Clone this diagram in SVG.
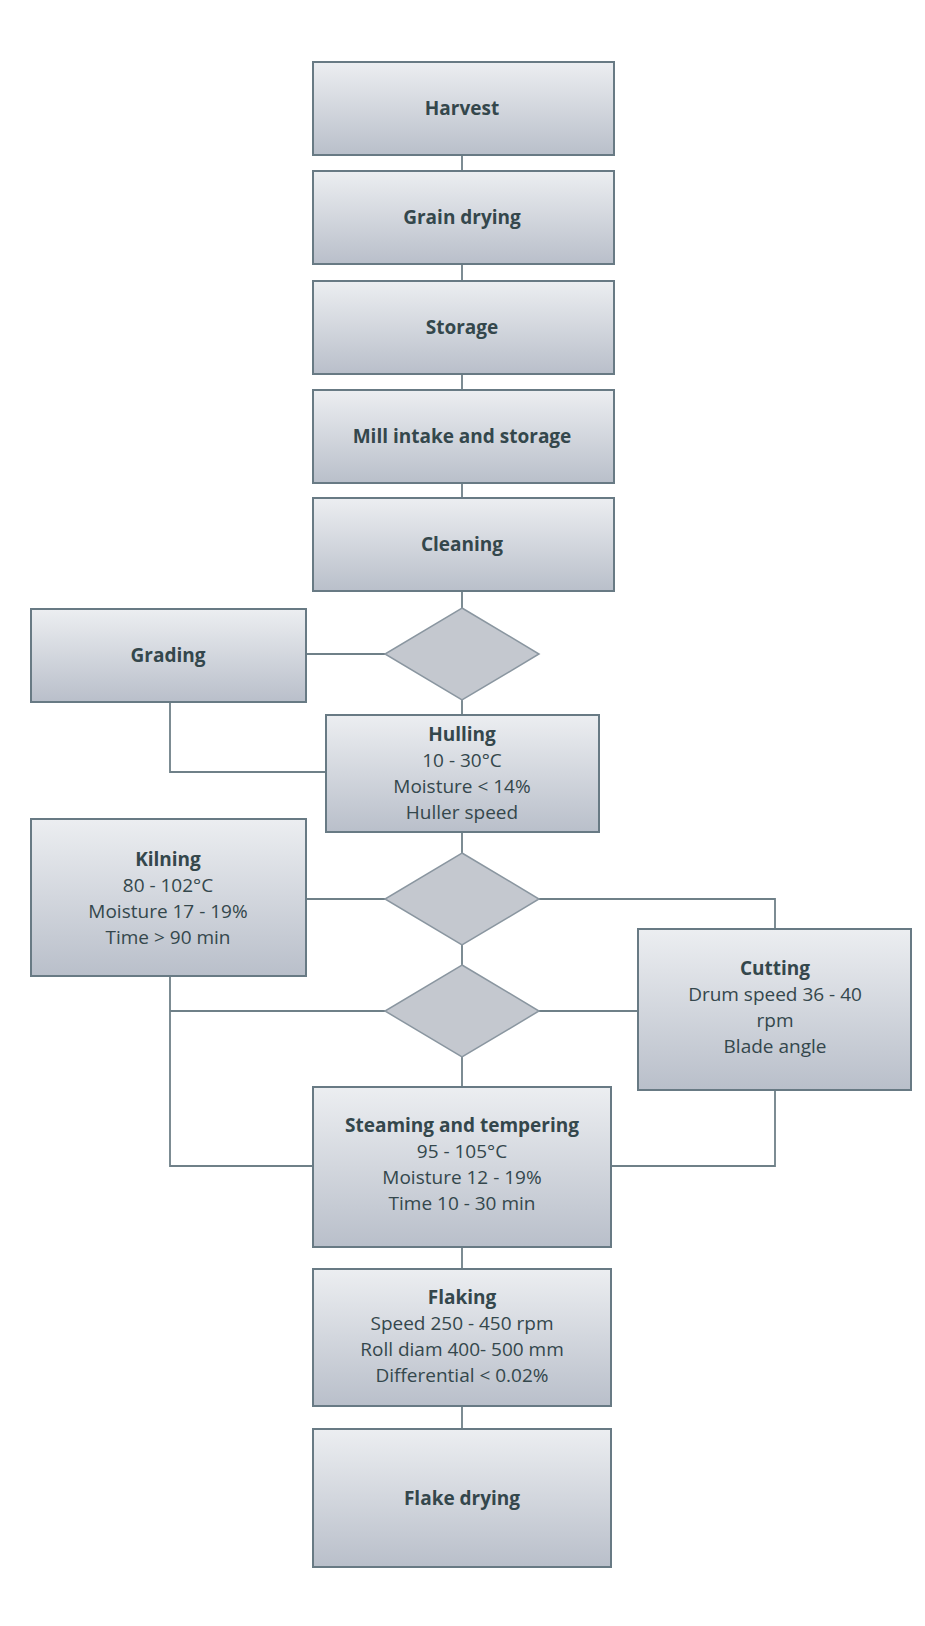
<svg xmlns="http://www.w3.org/2000/svg" width="925" height="1626" viewBox="0 0 925 1626">
<defs>
<linearGradient id="g" x1="0" y1="0" x2="0" y2="1"><stop offset="0" stop-color="#eceef1"/><stop offset="1" stop-color="#b9bfca"/></linearGradient>
</defs>
<style>
.b{fill:url(#g);stroke:#687a84;stroke-width:2}
.d{fill:#c4c8cf;stroke:#8a96a0;stroke-width:1.5}
.c{fill:none;stroke:#6f8088;stroke-width:1.8}
text{font-family:"Open Sans","DejaVu Sans",sans-serif;font-size:19px;fill:#34474c;text-anchor:middle}
.t{font-weight:bold}
</style>
<rect width="925" height="1626" fill="#fff"/>
<g id="connectors">
<path class="c" d="M462 155V171M462 264V281M462 374V390M462 483V498M462 591V608M462 700V715M306 654H385M170 702V772H326M462 832V853M306 899H385M539 899H775V929M462 945V965M170 976V1166H313M385 1011H170M539 1011H638M462 1057V1087M775 1090V1166H611M462 1247V1269M462 1406V1429"/>
</g>
<g id="harvest"><rect class="b" x="313" y="62" width="301" height="93"/><text class="t" x="462" y="115">Harvest</text></g>
<g id="grain-drying"><rect class="b" x="313" y="171" width="301" height="93"/><text class="t" x="462" y="224">Grain drying</text></g>
<g id="storage"><rect class="b" x="313" y="281" width="301" height="93"/><text class="t" x="462" y="334">Storage</text></g>
<g id="mill-intake"><rect class="b" x="313" y="390" width="301" height="93"/><text class="t" x="462" y="443">Mill intake and storage</text></g>
<g id="cleaning"><rect class="b" x="313" y="498" width="301" height="93"/><text class="t" x="462" y="551">Cleaning</text></g>
<g id="diamond1"><polygon class="d" points="462,608 539,654 462,700 385,654"/></g>
<g id="grading"><rect class="b" x="31" y="609" width="275" height="93"/><text class="t" x="168" y="662">Grading</text></g>
<g id="hulling"><rect class="b" x="326" y="715" width="273" height="117"/><text class="t" x="462" y="741">Hulling</text><text x="462" y="767">10 - 30°C</text><text x="462" y="793">Moisture &lt; 14%</text><text x="462" y="819">Huller speed</text></g>
<g id="kilning"><rect class="b" x="31" y="819" width="275" height="157"/><text class="t" x="168" y="866">Kilning</text><text x="168" y="892">80 - 102°C</text><text x="168" y="918">Moisture 17 - 19%</text><text x="168" y="944">Time &gt; 90 min</text></g>
<g id="diamond2"><polygon class="d" points="462,853 539,899 462,945 385,899"/></g>
<g id="cutting"><rect class="b" x="638" y="929" width="273" height="161"/><text class="t" x="775" y="975">Cutting</text><text x="775" y="1001">Drum speed 36 - 40</text><text x="775" y="1027">rpm</text><text x="775" y="1053">Blade angle</text></g>
<g id="diamond3"><polygon class="d" points="462,965 539,1011 462,1057 385,1011"/></g>
<g id="steaming"><rect class="b" x="313" y="1087" width="298" height="160"/><text class="t" x="462" y="1132">Steaming and tempering</text><text x="462" y="1158">95 - 105°C</text><text x="462" y="1184">Moisture 12 - 19%</text><text x="462" y="1210">Time 10 - 30 min</text></g>
<g id="flaking"><rect class="b" x="313" y="1269" width="298" height="137"/><text class="t" x="462" y="1304">Flaking</text><text x="462" y="1330">Speed 250 - 450 rpm</text><text x="462" y="1356">Roll diam 400- 500 mm</text><text x="462" y="1382">Differential &lt; 0.02%</text></g>
<g id="flake-drying"><rect class="b" x="313" y="1429" width="298" height="138"/><text class="t" x="462" y="1505">Flake drying</text></g>
</svg>
